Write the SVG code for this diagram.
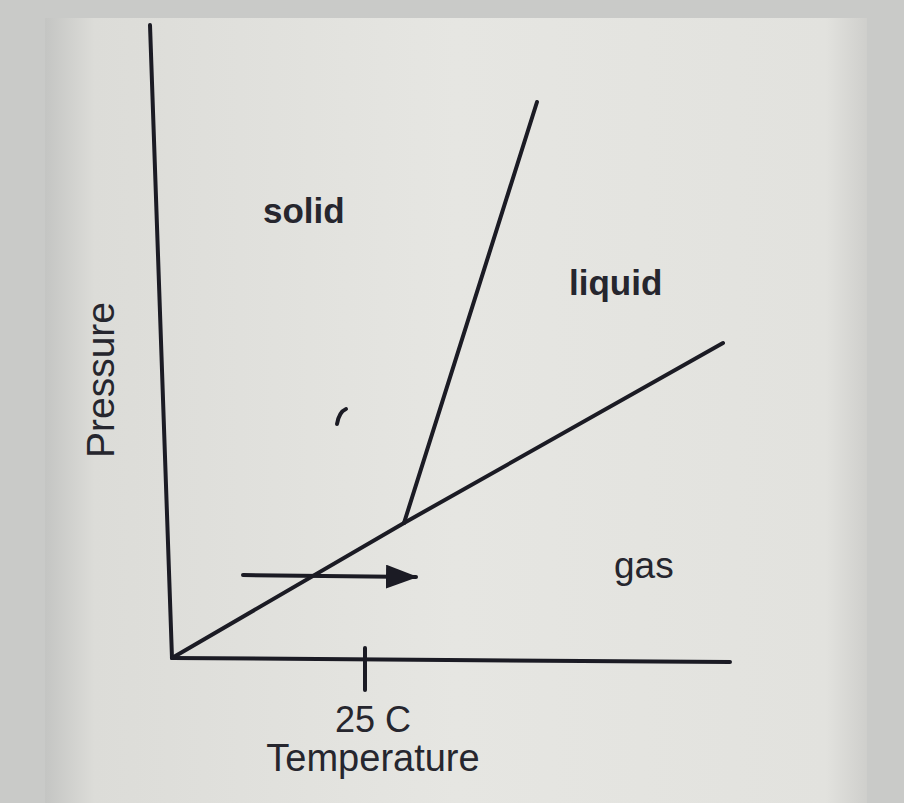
<svg xmlns="http://www.w3.org/2000/svg" width="904" height="803" viewBox="0 0 904 803">
<defs>
<marker id="ah" markerWidth="8" markerHeight="6" refX="7.5" refY="3" orient="auto" markerUnits="strokeWidth">
<path d="M0,0 L8,3 L0,6 Z" fill="#1b1b24"/>
</marker>
<linearGradient id="bg" x1="0" y1="0" x2="1" y2="0">
<stop offset="0" stop-color="#c4c5c3"/>
<stop offset="0.06" stop-color="#dcdcd8"/>
<stop offset="0.5" stop-color="#e6e6e2"/>
<stop offset="0.95" stop-color="#e2e2de"/>
<stop offset="1" stop-color="#cfcfcc"/>
</linearGradient>
</defs>
<style>
.ln{stroke:#1b1b24;stroke-width:4;fill:none;stroke-linecap:round}
.lbl{font-family:"Liberation Sans",Arial,sans-serif;fill:#26262e}
.b{font-weight:bold;font-size:35px}
.n{font-size:37px}
</style>
<rect x="0" y="0" width="904" height="803" fill="#c9cac8"/>
<rect x="45" y="18" width="822" height="785" fill="url(#bg)"/>
<g id="axes">
<path class="ln" d="M150,25 L172,658"/>
<path class="ln" d="M172,658 L730,662"/>
<path class="ln" d="M365,648 L365,690"/>
</g>
<g id="connectors">
<path id="gas-solid" class="ln" d="M172,658 L404,523"/>
<path id="gas-liquid" class="ln" d="M404,523 L723,343"/>
<path id="solid-liquid" class="ln" d="M404,523 L537,102"/>
<path id="arrow" class="ln" stroke-width="3.5" d="M243,575 L416,577" marker-end="url(#ah)"/>
<path class="ln" stroke-width="2" d="M346,409 Q339,412 337,424"/>
</g>
<g id="solid"><text class="lbl b" x="263" y="223">solid</text></g>
<g id="liquid"><text class="lbl b" x="569" y="295">liquid</text></g>
<g id="gas"><text class="lbl n" x="614" y="578">gas</text></g>
<g id="tick-label"><text class="lbl n" x="373" y="732" text-anchor="middle" style="font-size:36px">25 C</text></g>
<g id="x-label"><text class="lbl n" x="373" y="771" text-anchor="middle" style="font-size:38px">Temperature</text></g>
<g id="y-label"><text class="lbl n" transform="translate(114,380) rotate(-90)" text-anchor="middle" style="font-size:39px">Pressure</text></g>
</svg>
